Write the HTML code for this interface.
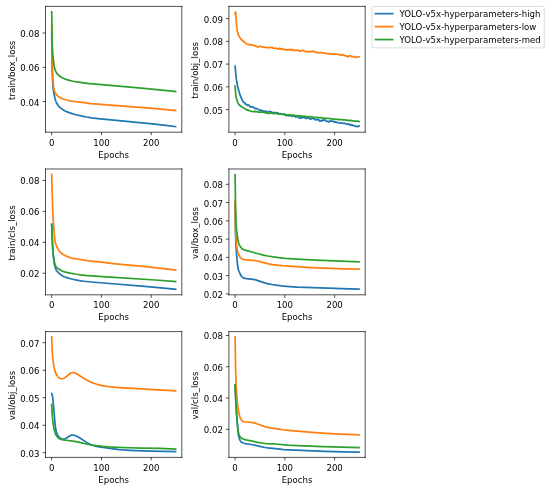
<!DOCTYPE html>
<html><head><meta charset="utf-8"><title>results</title>
<style>html,body{margin:0;padding:0;background:#fff;width:550px;height:490px;overflow:hidden}svg{display:block}</style>
</head><body>
<svg width="550" height="490" viewBox="0 0 639.534884 569.767442">
 <defs>
  <style type="text/css">*{stroke-linejoin: round; stroke-linecap: butt}</style>
 </defs>
 <g id="figure_1">
  <g id="patch_1">
   <path d="M 0 569.767442 L 639.534884 569.767442 L 639.534884 0 L 0 0 z" style="fill: #ffffff"/>
  </g>
  <g id="axes_1">
   <g id="patch_2">
    <path d="M 52.906977 153.72093 L 211.395349 153.72093 L 211.395349 7.44186 L 52.906977 7.44186 z" style="fill: #ffffff"/>
   </g>
   <g id="matplotlib.axis_1">
    <g id="xtick_1">
     <g id="line2d_1">
      <g>
       <path d="M 0 0 L 0 3.5" transform="translate(60.110994 153.72093)" style="stroke: #000000; stroke-width: 0.8"/>
      </g>
     </g>
     <g id="text_1">
      <g transform="translate(0.000 1.163)"><text style="font-size: 10px; font-family: 'DejaVu Sans', 'Liberation Sans', sans-serif; text-anchor: middle" x="60.110994" y="168.64093">0</text></g>
     </g>
    </g>
    <g id="xtick_2">
     <g id="line2d_2">
      <g>
       <path d="M 0 0 L 0 3.5" transform="translate(117.974583 153.72093)" style="stroke: #000000; stroke-width: 0.8"/>
      </g>
     </g>
     <g id="text_2">
      <g transform="translate(0.000 1.163)"><text style="font-size: 10px; font-family: 'DejaVu Sans', 'Liberation Sans', sans-serif; text-anchor: middle" x="117.974583" y="168.64093">100</text></g>
     </g>
    </g>
    <g id="xtick_3">
     <g id="line2d_3">
      <g>
       <path d="M 0 0 L 0 3.5" transform="translate(175.838173 153.72093)" style="stroke: #000000; stroke-width: 0.8"/>
      </g>
     </g>
     <g id="text_3">
      <g transform="translate(0.000 1.163)"><text style="font-size: 10px; font-family: 'DejaVu Sans', 'Liberation Sans', sans-serif; text-anchor: middle" x="175.838173" y="168.64093">200</text></g>
     </g>
    </g>
    <g id="text_4">
     <g transform="translate(0.000 1.163)"><text style="font-size: 10px; font-family: 'DejaVu Sans', 'Liberation Sans', sans-serif; text-anchor: middle" x="132.151163" y="182.72093">Epochs</text></g>
    </g>
   </g>
   <g id="matplotlib.axis_2">
    <g id="ytick_1">
     <g id="line2d_4">
      <g>
       <path d="M 0 0 L -3.5 0" transform="translate(52.906977 118.143308)" style="stroke: #000000; stroke-width: 0.8"/>
      </g>
     </g>
     <g id="text_5">
      <g transform="translate(0.000 1.163)"><text style="font-size: 10px; font-family: 'DejaVu Sans', 'Liberation Sans', sans-serif; text-anchor: end" x="45.906977" y="122.103308">0.04</text></g>
     </g>
    </g>
    <g id="ytick_2">
     <g id="line2d_5">
      <g>
       <path d="M 0 0 L -3.5 0" transform="translate(52.906977 78.258081)" style="stroke: #000000; stroke-width: 0.8"/>
      </g>
     </g>
     <g id="text_6">
      <text style="font-size: 10px; font-family: 'DejaVu Sans', 'Liberation Sans', sans-serif; text-anchor: end" x="45.906977" y="82.218081">0.06</text>
     </g>
    </g>
    <g id="ytick_3">
     <g id="line2d_6">
      <g>
       <path d="M 0 0 L -3.5 0" transform="translate(52.906977 38.372854)" style="stroke: #000000; stroke-width: 0.8"/>
      </g>
     </g>
     <g id="text_7">
      <g transform="translate(0.000 1.163)"><text style="font-size: 10px; font-family: 'DejaVu Sans', 'Liberation Sans', sans-serif; text-anchor: end" x="45.906977" y="42.332854">0.08</text></g>
     </g>
    </g>
    <g id="text_8">
     <g transform="translate(0.000 1.163)"><text style="font-size: 10px; font-family: 'DejaVu Sans', 'Liberation Sans', sans-serif; text-anchor: middle" x="17.505727" y="80.581395" transform="rotate(-90 17.505727 80.581395)">train/box_loss</text></g>
    </g>
   </g>
   <g id="line2d_7">
    <path d="M 60.110994 38.372093 L 60.68963 81.395349 L 61.268265 95.348837 L 61.846901 102.906977 L 62.425537 107.55814 L 64.161445 115.697674 L 65.318717 118.676694 L 66.475989 121.031673 L 67.63326 122.743988 L 68.790532 124.060862 L 70.52644 125.636229 L 72.840983 127.316127 L 75.155527 128.689547 L 77.470071 129.826139 L 80.36325 130.998821 L 83.835065 132.153719 L 88.464153 133.440857 L 94.250512 134.797215 L 100.615506 136.065662 L 106.401865 136.981433 L 113.924132 137.924268 L 126.075486 139.19491 L 150.378194 141.508944 L 179.888624 144.307254 L 192.618614 145.800718 L 204.191332 147.250652 L 204.191332 147.250652" clip-path="url(#pa51ea59120)" style="fill: none; stroke: #1f77b4; stroke-width: 2; stroke-linecap: square"/>
   </g>
   <g id="line2d_8">
    <path d="M 60.110994 28.372093 L 60.68963 67.44186 L 61.268265 88.372093 L 61.846901 96.511628 L 62.425537 101.511628 L 63.004173 104.418605 L 63.582809 106.395349 L 64.161445 107.790698 L 64.740081 108.839256 L 65.897353 110.301746 L 67.054624 111.478786 L 68.211896 112.409042 L 69.947804 113.468777 L 72.262347 114.572966 L 74.576891 115.446429 L 77.470071 116.316206 L 80.941886 117.150907 L 84.992337 117.887887 L 89.621424 118.468525 L 97.722327 119.439123 L 105.823229 120.447266 L 113.345496 121.10081 L 181.045896 126.36544 L 204.191332 128.639192 L 204.191332 128.639192" clip-path="url(#pa51ea59120)" style="fill: none; stroke: #ff7f0e; stroke-width: 2; stroke-linecap: square"/>
   </g>
   <g id="line2d_9">
    <path d="M 60.110994 13.72093 L 60.68963 51.162791 L 61.268265 61.627907 L 62.425537 72.325581 L 63.004173 77.093023 L 63.582809 79.767442 L 64.161445 81.627907 L 65.318717 83.962157 L 66.475989 85.661337 L 67.63326 86.990401 L 68.790532 88.070206 L 70.52644 89.340797 L 72.262347 90.343452 L 74.576891 91.435531 L 77.470071 92.53172 L 80.941886 93.5351 L 84.992337 94.451995 L 89.042788 95.134112 L 101.772778 96.854487 L 108.137773 97.518653 L 157.90046 101.842681 L 173.523629 103.267481 L 197.247701 105.68733 L 204.191332 106.436363 L 204.191332 106.436363" clip-path="url(#pa51ea59120)" style="fill: none; stroke: #2ca02c; stroke-width: 2; stroke-linecap: square"/>
   </g>
   <g id="patch_3">
    <path d="M 52.906977 153.72093 L 52.906977 7.44186" style="fill: none; stroke: #000000; stroke-width: 0.8; stroke-linejoin: miter; stroke-linecap: square"/>
   </g>
   <g id="patch_4">
    <path d="M 211.395349 153.72093 L 211.395349 7.44186" style="fill: none; stroke: #000000; stroke-width: 0.8; stroke-linejoin: miter; stroke-linecap: square"/>
   </g>
   <g id="patch_5">
    <path d="M 52.906977 153.72093 L 211.395349 153.72093" style="fill: none; stroke: #000000; stroke-width: 0.8; stroke-linejoin: miter; stroke-linecap: square"/>
   </g>
   <g id="patch_6">
    <path d="M 52.906977 7.44186 L 211.395349 7.44186" style="fill: none; stroke: #000000; stroke-width: 0.8; stroke-linejoin: miter; stroke-linecap: square"/>
   </g>
  </g>
  <g id="axes_2">
   <g id="patch_7">
    <path d="M 266.162791 153.72093 L 424.651163 153.72093 L 424.651163 7.44186 L 266.162791 7.44186 z" style="fill: #ffffff"/>
   </g>
   <g id="matplotlib.axis_3">
    <g id="xtick_4">
     <g id="line2d_10">
      <g>
       <path d="M 0 0 L 0 3.5" transform="translate(273.366808 153.72093)" style="stroke: #000000; stroke-width: 0.8"/>
      </g>
     </g>
     <g id="text_9">
      <g transform="translate(0.000 1.163)"><text style="font-size: 10px; font-family: 'DejaVu Sans', 'Liberation Sans', sans-serif; text-anchor: middle" x="273.366808" y="168.64093">0</text></g>
     </g>
    </g>
    <g id="xtick_5">
     <g id="line2d_11">
      <g>
       <path d="M 0 0 L 0 3.5" transform="translate(331.230397 153.72093)" style="stroke: #000000; stroke-width: 0.8"/>
      </g>
     </g>
     <g id="text_10">
      <g transform="translate(0.000 1.163)"><text style="font-size: 10px; font-family: 'DejaVu Sans', 'Liberation Sans', sans-serif; text-anchor: middle" x="331.230397" y="168.64093">100</text></g>
     </g>
    </g>
    <g id="xtick_6">
     <g id="line2d_12">
      <g>
       <path d="M 0 0 L 0 3.5" transform="translate(389.093987 153.72093)" style="stroke: #000000; stroke-width: 0.8"/>
      </g>
     </g>
     <g id="text_11">
      <g transform="translate(0.000 1.163)"><text style="font-size: 10px; font-family: 'DejaVu Sans', 'Liberation Sans', sans-serif; text-anchor: middle" x="389.093987" y="168.64093">200</text></g>
     </g>
    </g>
    <g id="text_12">
     <g transform="translate(0.000 1.163)"><text style="font-size: 10px; font-family: 'DejaVu Sans', 'Liberation Sans', sans-serif; text-anchor: middle" x="345.406977" y="182.72093">Epochs</text></g>
    </g>
   </g>
   <g id="matplotlib.axis_4">
    <g id="ytick_4">
     <g id="line2d_13">
      <g>
       <path d="M 0 0 L -3.5 0" transform="translate(266.162791 127.449432)" style="stroke: #000000; stroke-width: 0.8"/>
      </g>
     </g>
     <g id="text_13">
      <g transform="translate(0.000 1.163)"><text style="font-size: 10px; font-family: 'DejaVu Sans', 'Liberation Sans', sans-serif; text-anchor: end" x="259.162791" y="131.409432">0.05</text></g>
     </g>
    </g>
    <g id="ytick_5">
     <g id="line2d_14">
      <g>
       <path d="M 0 0 L -3.5 0" transform="translate(266.162791 100.992736)" style="stroke: #000000; stroke-width: 0.8"/>
      </g>
     </g>
     <g id="text_14">
      <g transform="translate(0.000 1.163)"><text style="font-size: 10px; font-family: 'DejaVu Sans', 'Liberation Sans', sans-serif; text-anchor: end" x="259.162791" y="104.952736">0.06</text></g>
     </g>
    </g>
    <g id="ytick_6">
     <g id="line2d_15">
      <g>
       <path d="M 0 0 L -3.5 0" transform="translate(266.162791 74.53604)" style="stroke: #000000; stroke-width: 0.8"/>
      </g>
     </g>
     <g id="text_15">
      <text style="font-size: 10px; font-family: 'DejaVu Sans', 'Liberation Sans', sans-serif; text-anchor: end" x="259.162791" y="78.49604">0.07</text>
     </g>
    </g>
    <g id="ytick_7">
     <g id="line2d_16">
      <g>
       <path d="M 0 0 L -3.5 0" transform="translate(266.162791 48.079345)" style="stroke: #000000; stroke-width: 0.8"/>
      </g>
     </g>
     <g id="text_16">
      <text style="font-size: 10px; font-family: 'DejaVu Sans', 'Liberation Sans', sans-serif; text-anchor: end" x="259.162791" y="52.039345">0.08</text>
     </g>
    </g>
    <g id="ytick_8">
     <g id="line2d_17">
      <g>
       <path d="M 0 0 L -3.5 0" transform="translate(266.162791 21.622649)" style="stroke: #000000; stroke-width: 0.8"/>
      </g>
     </g>
     <g id="text_17">
      <g transform="translate(0.000 1.163)"><text style="font-size: 10px; font-family: 'DejaVu Sans', 'Liberation Sans', sans-serif; text-anchor: end" x="259.162791" y="25.582649">0.09</text></g>
     </g>
    </g>
    <g id="text_18">
     <g transform="translate(0.000 1.163)"><text style="font-size: 10px; font-family: 'DejaVu Sans', 'Liberation Sans', sans-serif; text-anchor: middle" x="230.761541" y="80.581395" transform="rotate(-90 230.761541 80.581395)">train/obj_loss</text></g>
    </g>
   </g>
   <g id="line2d_18">
    <path d="M 273.366808 77.004351 L 274.524079 89.388504 L 275.102715 93.733784 L 276.259987 100.143625 L 277.995895 106.76962 L 279.153167 110.696024 L 280.310438 113.285902 L 282.046346 117.089066 L 283.203618 118.819589 L 284.36089 119.557095 L 284.939526 120.470112 L 285.518161 121.158641 L 286.675433 121.306478 L 287.832705 122.777922 L 288.411341 122.649345 L 288.989977 122.199112 L 289.568613 122.274269 L 290.147249 122.878121 L 290.725885 123.816716 L 291.30452 124.476378 L 293.619064 124.093702 L 295.933608 125.737953 L 296.512243 126.244189 L 297.090879 126.303608 L 297.669515 126.063223 L 298.248151 126.224087 L 298.826787 126.511902 L 299.405423 126.542498 L 300.562695 127.577257 L 301.141331 127.535353 L 302.298602 128.154108 L 302.877238 128.034657 L 304.03451 128.287611 L 304.613146 128.609846 L 305.191782 129.368726 L 305.770418 129.478675 L 306.349054 129.059131 L 306.92769 128.910288 L 308.084961 129.639845 L 308.663597 129.646105 L 309.242233 129.32258 L 309.820869 129.38432 L 310.399505 130.167159 L 310.978141 130.548312 L 311.556777 130.194108 L 312.714049 129.973475 L 313.292684 129.599796 L 313.87132 129.594857 L 314.449956 130.044385 L 315.028592 130.170393 L 315.607228 130.148375 L 316.7645 130.978529 L 318.500408 130.813266 L 319.657679 130.924959 L 320.236315 130.8823 L 321.393587 131.623916 L 321.972223 131.485016 L 322.550859 130.887425 L 323.129495 131.230457 L 323.708131 132.257161 L 324.286767 132.481479 L 324.865402 132.218077 L 325.444038 132.315783 L 326.60131 132.183585 L 327.179946 132.470761 L 327.758582 132.882826 L 328.337218 133.131435 L 328.915854 133.063033 L 330.073125 132.384432 L 330.651761 132.697614 L 331.230397 133.192467 L 331.809033 133.378764 L 332.966305 134.423047 L 334.123577 133.918033 L 335.859484 134.396388 L 336.43812 134.715234 L 337.016756 134.619195 L 337.595392 134.024071 L 338.174028 134.027856 L 338.752664 134.455111 L 339.3313 135.147223 L 339.909936 135.404167 L 340.488572 135.040501 L 341.645843 134.71257 L 342.224479 134.76196 L 342.803115 134.96485 L 343.381751 135.750981 L 343.960387 136.16189 L 344.539023 135.736386 L 345.117659 135.585373 L 345.696295 135.556492 L 346.274931 135.642096 L 347.432202 136.883923 L 348.589474 137.418232 L 349.16811 137.517614 L 350.904018 137.025851 L 351.482654 137.019696 L 352.639925 136.395536 L 353.797197 136.772645 L 354.375833 137.002847 L 354.954469 136.878293 L 355.533105 136.940202 L 356.111741 137.507383 L 356.690377 137.862392 L 357.269013 137.572422 L 357.847649 137.106759 L 358.426284 136.884872 L 359.00492 137.072189 L 359.583556 137.46643 L 360.162192 138.292531 L 360.740828 138.378675 L 361.319464 138.212029 L 362.476736 138.209816 L 363.634007 137.52242 L 364.791279 137.828566 L 365.369915 138.20728 L 366.527187 139.350613 L 367.105823 138.953957 L 367.684459 138.755535 L 368.263095 139.206457 L 368.841731 139.381122 L 369.999002 138.620746 L 370.577638 139.278481 L 371.156274 140.159089 L 371.73491 140.744821 L 372.313546 140.48916 L 372.892182 140.080138 L 374.049454 140.91475 L 375.206725 139.78559 L 375.785361 139.658578 L 376.363997 139.750044 L 376.942633 139.591054 L 377.521269 139.243084 L 379.257177 140.914081 L 379.835813 141.20678 L 380.414448 141.22522 L 380.993084 140.97225 L 381.57172 141.118544 L 382.150356 141.626377 L 382.728992 141.707477 L 383.307628 141.012824 L 383.886264 140.547427 L 384.4649 140.662409 L 385.043536 140.922325 L 386.779443 140.857854 L 387.358079 140.993904 L 388.515351 141.979473 L 389.093987 142.056957 L 389.672623 141.680925 L 390.829895 142.083607 L 391.408531 142.202072 L 391.987166 142.573142 L 393.144438 142.424354 L 395.458982 143.390607 L 396.616254 143.02785 L 397.194889 142.877382 L 397.773525 142.931839 L 398.352161 143.364344 L 398.930797 143.609756 L 400.088069 143.357169 L 400.666705 143.426562 L 401.823977 143.787736 L 402.402613 143.882459 L 402.981248 144.193577 L 403.559884 144.683662 L 404.13852 144.690335 L 404.717156 144.308818 L 405.295792 144.097916 L 406.453064 144.863718 L 407.0317 145.428585 L 407.610336 145.69958 L 408.188972 145.061158 L 408.767607 144.731385 L 409.346243 145.106246 L 409.924879 145.756052 L 411.082151 146.003143 L 411.660787 146.350505 L 412.239423 146.226144 L 412.818059 146.216685 L 413.396695 146.468592 L 413.97533 147.020817 L 414.553966 147.217192 L 415.711238 147.261349 L 416.86851 146.311603 L 417.447146 146.563365 L 417.447146 146.563365" clip-path="url(#pc70cf0ac64)" style="fill: none; stroke: #1f77b4; stroke-width: 2; stroke-linecap: square"/>
   </g>
   <g id="line2d_19">
    <path d="M 273.366808 16.544099 L 273.945444 13.673542 L 275.102715 29.050179 L 275.681351 34.522333 L 276.259987 37.341533 L 276.838623 39.445701 L 278.574531 43.302783 L 279.153167 43.876511 L 281.46771 46.930738 L 282.624982 47.590655 L 283.203618 48.223808 L 284.36089 49.049705 L 284.939526 49.787311 L 285.518161 50.246942 L 286.096797 50.300023 L 287.254069 51.370651 L 288.411341 51.560572 L 288.989977 51.926636 L 289.568613 52.056894 L 290.147249 51.726013 L 290.725885 51.596274 L 291.883156 52.30553 L 292.461792 52.206976 L 293.040428 52.241703 L 293.619064 52.481997 L 294.776336 52.589593 L 295.354972 53.094191 L 295.933608 53.42718 L 297.090879 53.228077 L 297.669515 53.456495 L 298.248151 54.077102 L 298.826787 54.422368 L 299.405423 54.638074 L 299.984059 54.706493 L 300.562695 54.330145 L 301.141331 54.154934 L 301.719967 54.169499 L 302.298602 53.877947 L 302.877238 53.835283 L 304.613146 54.435658 L 305.191782 54.796873 L 305.770418 54.67653 L 306.349054 54.810692 L 306.92769 55.217781 L 308.663597 54.856659 L 309.242233 55.053143 L 310.978141 55.332667 L 312.135413 55.213783 L 313.292684 55.332791 L 313.87132 55.14702 L 314.449956 55.224041 L 315.028592 55.417773 L 316.185864 55.000352 L 316.7645 55.275551 L 317.343136 55.884442 L 318.500408 55.805213 L 319.079043 56.153648 L 319.657679 56.290891 L 320.236315 56.194239 L 320.814951 56.368587 L 321.393587 56.181336 L 321.972223 56.232059 L 322.550859 56.847541 L 323.129495 57.107426 L 323.708131 57.052793 L 324.865402 55.998035 L 325.444038 56.263599 L 326.022674 57.166635 L 326.60131 57.24883 L 327.179946 56.696818 L 327.758582 56.471877 L 328.915854 57.324592 L 330.073125 57.409128 L 330.651761 57.61621 L 331.230397 57.693928 L 331.809033 57.519232 L 332.387669 57.49744 L 333.544941 58.030278 L 334.123577 58.269654 L 335.280849 57.681889 L 335.859484 58.000289 L 336.43812 58.179335 L 337.595392 57.347374 L 338.174028 57.321574 L 339.3313 58.474657 L 339.909936 58.469917 L 340.488572 57.704647 L 341.067208 57.481605 L 341.645843 58.244372 L 342.224479 58.596725 L 342.803115 58.534938 L 343.960387 58.794898 L 344.539023 58.690319 L 345.696295 58.26855 L 346.853566 58.495804 L 347.432202 58.775199 L 348.010838 59.187268 L 348.589474 59.741353 L 349.16811 59.626793 L 349.746746 59.121119 L 350.904018 58.853002 L 352.06129 58.496549 L 352.639925 58.571517 L 353.218561 58.831669 L 354.375833 59.740913 L 355.533105 60.004545 L 356.111741 60.111755 L 357.847649 59.795299 L 359.00492 60.514813 L 360.740828 59.587991 L 361.319464 59.860802 L 361.8981 60.31347 L 362.476736 60.191456 L 363.055372 59.62797 L 364.212643 59.334873 L 364.791279 59.621588 L 365.369915 60.328669 L 365.948551 60.490637 L 367.105823 60.393634 L 368.263095 60.720025 L 369.420366 61.487817 L 370.577638 61.417483 L 371.73491 61.261078 L 372.313546 61.035407 L 372.892182 60.946774 L 374.62809 61.513506 L 375.206725 61.736127 L 376.363997 61.816867 L 377.521269 61.675859 L 378.678541 62.094396 L 379.257177 62.040323 L 380.414448 62.457454 L 382.150356 62.379597 L 383.307628 62.89478 L 383.886264 62.660145 L 384.4649 62.265323 L 385.043536 62.530047 L 385.622172 62.968465 L 386.200807 63.078779 L 386.779443 62.987525 L 387.358079 62.744948 L 387.936715 62.985823 L 388.515351 62.936969 L 389.093987 63.018293 L 389.672623 63.336866 L 390.829895 62.785081 L 393.144438 63.202344 L 394.30171 63.510618 L 396.616254 64.122996 L 397.194889 64.273328 L 398.352161 63.404286 L 398.930797 63.663269 L 399.509433 64.11176 L 401.245341 64.629668 L 402.402613 65.34671 L 402.981248 65.234551 L 403.559884 65.29661 L 404.717156 65.825955 L 405.295792 65.894612 L 405.874428 65.498757 L 406.453064 64.826525 L 407.0317 64.583483 L 408.188972 65.110519 L 409.346243 66.13427 L 410.503515 65.661415 L 411.082151 65.782426 L 411.660787 65.762504 L 412.239423 65.91347 L 412.818059 66.449543 L 413.396695 66.743418 L 415.132602 66.283876 L 415.711238 65.894733 L 416.289874 65.85163 L 416.86851 66.254775 L 417.447146 66.351657 L 417.447146 66.351657" clip-path="url(#pc70cf0ac64)" style="fill: none; stroke: #ff7f0e; stroke-width: 2; stroke-linecap: square"/>
   </g>
   <g id="line2d_20">
    <path d="M 273.366808 100.142506 L 273.945444 107.947824 L 274.524079 112.907958 L 275.102715 115.214165 L 276.259987 118.695666 L 276.838623 120.002415 L 277.417259 121.03287 L 279.731802 123.291724 L 280.310438 123.908189 L 281.46771 124.527356 L 282.046346 124.68025 L 283.203618 125.427605 L 284.36089 126.158789 L 287.254069 127.771756 L 288.989977 128.368554 L 291.30452 129.122547 L 292.461792 129.559239 L 295.354972 129.692704 L 295.933608 129.59819 L 297.090879 129.900171 L 298.826787 129.945264 L 299.405423 130.032408 L 300.562695 130.483559 L 301.719967 130.312326 L 304.03451 130.47958 L 305.191782 130.353765 L 308.084961 130.858349 L 310.399505 131.584942 L 312.135413 131.471754 L 312.714049 131.757985 L 313.292684 131.873526 L 315.028592 131.605863 L 316.185864 131.504954 L 317.343136 131.795487 L 317.921772 132.030979 L 318.500408 132.098652 L 319.657679 131.85541 L 321.393587 131.964021 L 323.129495 132.475006 L 323.708131 132.34954 L 330.073125 133.155401 L 331.230397 133.503669 L 332.387669 133.380515 L 334.123577 133.506039 L 335.280849 133.468304 L 336.43812 133.680429 L 337.595392 133.555064 L 338.752664 133.976777 L 339.3313 134.071456 L 340.488572 133.86394 L 341.067208 133.952996 L 342.224479 134.32258 L 342.803115 134.23726 L 343.381751 134.299457 L 343.960387 134.563621 L 344.539023 134.67384 L 346.274931 134.332591 L 347.432202 134.807331 L 348.589474 135.059616 L 349.746746 134.769801 L 351.482654 135.177585 L 352.639925 134.991676 L 354.375833 135.222522 L 355.533105 135.391799 L 356.111741 135.525143 L 356.690377 135.776858 L 357.269013 135.827102 L 358.426284 135.729821 L 359.00492 135.781337 L 360.162192 135.583766 L 362.476736 135.943925 L 363.055372 136.137726 L 364.212643 136.07822 L 365.369915 136.342095 L 367.105823 136.600126 L 368.263095 136.488501 L 369.999002 136.797147 L 371.156274 136.617779 L 372.892182 136.732503 L 375.785361 137.710661 L 376.942633 137.35742 L 378.099905 137.855853 L 379.257177 137.476521 L 381.57172 137.758584 L 382.150356 137.678514 L 387.936715 138.443151 L 389.093987 138.86744 L 390.251259 138.633799 L 391.408531 138.783386 L 393.144438 138.865521 L 393.723074 139.040949 L 396.616254 139.218843 L 397.773525 139.105942 L 398.930797 139.461473 L 400.088069 139.473813 L 401.245341 139.406111 L 402.981248 139.95325 L 404.13852 139.906842 L 404.717156 139.793918 L 407.0317 140.148971 L 408.188972 140.068946 L 411.660787 140.864921 L 412.818059 140.787366 L 413.97533 141.081723 L 415.132602 140.951874 L 415.711238 140.798183 L 416.289874 140.783287 L 417.447146 141.445233 L 417.447146 141.445233" clip-path="url(#pc70cf0ac64)" style="fill: none; stroke: #2ca02c; stroke-width: 2; stroke-linecap: square"/>
   </g>
   <g id="patch_8">
    <path d="M 266.162791 153.72093 L 266.162791 7.44186" style="fill: none; stroke: #000000; stroke-width: 0.8; stroke-linejoin: miter; stroke-linecap: square"/>
   </g>
   <g id="patch_9">
    <path d="M 424.651163 153.72093 L 424.651163 7.44186" style="fill: none; stroke: #000000; stroke-width: 0.8; stroke-linejoin: miter; stroke-linecap: square"/>
   </g>
   <g id="patch_10">
    <path d="M 266.162791 153.72093 L 424.651163 153.72093" style="fill: none; stroke: #000000; stroke-width: 0.8; stroke-linejoin: miter; stroke-linecap: square"/>
   </g>
   <g id="patch_11">
    <path d="M 266.162791 7.44186 L 424.651163 7.44186" style="fill: none; stroke: #000000; stroke-width: 0.8; stroke-linejoin: miter; stroke-linecap: square"/>
   </g>
   <g id="legend_1">
    <g id="patch_12">
     <path d="M 434.575581 55.68186 L 630.915581 55.68186 Q 632.915581 55.68186 632.915581 53.68186 L 632.915581 9.44186 Q 632.915581 7.44186 630.915581 7.44186 L 434.575581 7.44186 Q 432.575581 7.44186 432.575581 9.44186 L 432.575581 53.68186 Q 432.575581 55.68186 434.575581 55.68186 z" style="fill: #ffffff; opacity: 0.8; stroke: #cccccc; stroke-linejoin: miter"/>
    </g>
    <g id="line2d_21">
     <path d="M 436.575581 15.86186 L 446.575581 15.86186 L 456.575581 15.86186" style="fill: none; stroke: #1f77b4; stroke-width: 2; stroke-linecap: square"/>
    </g>
    <g id="text_19">
     <text style="font-size: 10px; font-family: 'DejaVu Sans', 'Liberation Sans', sans-serif; text-anchor: start" x="464.575581" y="19.36186">YOLO-v5x-hyperparameters-high</text>
    </g>
    <g id="line2d_22">
     <path d="M 436.575581 30.94186 L 446.575581 30.94186 L 456.575581 30.94186" style="fill: none; stroke: #ff7f0e; stroke-width: 2; stroke-linecap: square"/>
    </g>
    <g id="text_20">
     <text style="font-size: 10px; font-family: 'DejaVu Sans', 'Liberation Sans', sans-serif; text-anchor: start" x="464.575581" y="34.44186">YOLO-v5x-hyperparameters-low</text>
    </g>
    <g id="line2d_23">
     <path d="M 436.575581 46.02186 L 446.575581 46.02186 L 456.575581 46.02186" style="fill: none; stroke: #2ca02c; stroke-width: 2; stroke-linecap: square"/>
    </g>
    <g id="text_21">
     <text style="font-size: 10px; font-family: 'DejaVu Sans', 'Liberation Sans', sans-serif; text-anchor: start" x="464.575581" y="49.52186">YOLO-v5x-hyperparameters-med</text>
    </g>
   </g>
  </g>
  <g id="axes_3">
   <g id="patch_13">
    <path d="M 52.906977 342.790698 L 211.395349 342.790698 L 211.395349 196.511628 L 52.906977 196.511628 z" style="fill: #ffffff"/>
   </g>
   <g id="matplotlib.axis_5">
    <g id="xtick_7">
     <g id="line2d_24">
      <g>
       <path d="M 0 0 L 0 3.5" transform="translate(60.110994 342.790698)" style="stroke: #000000; stroke-width: 0.8"/>
      </g>
     </g>
     <g id="text_22">
      <text style="font-size: 10px; font-family: 'DejaVu Sans', 'Liberation Sans', sans-serif; text-anchor: middle" x="60.110994" y="357.710698">0</text>
     </g>
    </g>
    <g id="xtick_8">
     <g id="line2d_25">
      <g>
       <path d="M 0 0 L 0 3.5" transform="translate(117.974583 342.790698)" style="stroke: #000000; stroke-width: 0.8"/>
      </g>
     </g>
     <g id="text_23">
      <text style="font-size: 10px; font-family: 'DejaVu Sans', 'Liberation Sans', sans-serif; text-anchor: middle" x="117.974583" y="357.710698">100</text>
     </g>
    </g>
    <g id="xtick_9">
     <g id="line2d_26">
      <g>
       <path d="M 0 0 L 0 3.5" transform="translate(175.838173 342.790698)" style="stroke: #000000; stroke-width: 0.8"/>
      </g>
     </g>
     <g id="text_24">
      <text style="font-size: 10px; font-family: 'DejaVu Sans', 'Liberation Sans', sans-serif; text-anchor: middle" x="175.838173" y="357.710698">200</text>
     </g>
    </g>
    <g id="text_25">
     <text style="font-size: 10px; font-family: 'DejaVu Sans', 'Liberation Sans', sans-serif; text-anchor: middle" x="132.151163" y="371.790698">Epochs</text>
    </g>
   </g>
   <g id="matplotlib.axis_6">
    <g id="ytick_9">
     <g id="line2d_27">
      <g>
       <path d="M 0 0 L -3.5 0" transform="translate(52.906977 317.674247)" style="stroke: #000000; stroke-width: 0.8"/>
      </g>
     </g>
     <g id="text_26">
      <text style="font-size: 10px; font-family: 'DejaVu Sans', 'Liberation Sans', sans-serif; text-anchor: end" x="45.906977" y="321.634247">0.02</text>
     </g>
    </g>
    <g id="ytick_10">
     <g id="line2d_28">
      <g>
       <path d="M 0 0 L -3.5 0" transform="translate(52.906977 281.742272)" style="stroke: #000000; stroke-width: 0.8"/>
      </g>
     </g>
     <g id="text_27">
      <text style="font-size: 10px; font-family: 'DejaVu Sans', 'Liberation Sans', sans-serif; text-anchor: end" x="45.906977" y="285.702272">0.04</text>
     </g>
    </g>
    <g id="ytick_11">
     <g id="line2d_29">
      <g>
       <path d="M 0 0 L -3.5 0" transform="translate(52.906977 245.810297)" style="stroke: #000000; stroke-width: 0.8"/>
      </g>
     </g>
     <g id="text_28">
      <text style="font-size: 10px; font-family: 'DejaVu Sans', 'Liberation Sans', sans-serif; text-anchor: end" x="45.906977" y="249.770297">0.06</text>
     </g>
    </g>
    <g id="ytick_12">
     <g id="line2d_30">
      <g>
       <path d="M 0 0 L -3.5 0" transform="translate(52.906977 209.878323)" style="stroke: #000000; stroke-width: 0.8"/>
      </g>
     </g>
     <g id="text_29">
      <text style="font-size: 10px; font-family: 'DejaVu Sans', 'Liberation Sans', sans-serif; text-anchor: end" x="45.906977" y="213.838323">0.08</text>
     </g>
    </g>
    <g id="text_30">
     <g transform="translate(0.000 1.163)"><text style="font-size: 10px; font-family: 'DejaVu Sans', 'Liberation Sans', sans-serif; text-anchor: middle" x="17.505727" y="269.651163" transform="rotate(-90 17.505727 269.651163)">train/cls_loss</text></g>
    </g>
   </g>
   <g id="line2d_31">
    <path d="M 60.110994 261.046512 L 61.268265 288.953488 L 61.846901 296.511628 L 62.425537 301.744186 L 63.004173 305.813953 L 63.582809 308.72093 L 64.161445 310.813953 L 65.318717 313.837209 L 65.897353 314.883721 L 67.054624 316.244289 L 68.790532 317.822178 L 71.683712 320.151837 L 73.419619 321.168968 L 75.734163 322.178543 L 78.627342 323.170458 L 83.25643 324.448362 L 87.885517 325.515404 L 92.514604 326.3564 L 97.722327 327.035843 L 106.401865 327.916753 L 120.289127 329.052693 L 168.315906 332.964712 L 193.19725 335.296255 L 204.191332 336.349766 L 204.191332 336.349766" clip-path="url(#p3bf4592980)" style="fill: none; stroke: #1f77b4; stroke-width: 2; stroke-linecap: square"/>
   </g>
   <g id="line2d_32">
    <path d="M 60.110994 202.906977 L 61.268265 244.186047 L 61.846901 254.651163 L 63.004173 270.348837 L 63.582809 276.744186 L 64.161445 280.813953 L 64.740081 283.212599 L 65.897353 286.553684 L 67.054624 289.06021 L 68.211896 290.940905 L 69.369168 292.457521 L 70.52644 293.677409 L 72.262347 295.079173 L 73.998255 296.177452 L 76.891435 297.703999 L 79.784614 299.000112 L 82.099158 299.757727 L 84.992337 300.407258 L 89.621424 301.162561 L 97.722327 302.476322 L 104.087322 303.46282 L 108.716409 303.927828 L 117.974583 304.732635 L 124.918214 305.694699 L 131.861845 306.555257 L 140.541383 307.363521 L 167.158635 309.698212 L 182.203168 311.379695 L 204.191332 313.936306 L 204.191332 313.936306" clip-path="url(#p3bf4592980)" style="fill: none; stroke: #ff7f0e; stroke-width: 2; stroke-linecap: square"/>
   </g>
   <g id="line2d_33">
    <path d="M 60.110994 260.697674 L 61.268265 288.372093 L 61.846901 295.116279 L 63.004173 302.906977 L 63.582809 305.813953 L 64.161445 307.906977 L 64.740081 309.418605 L 65.318717 310.581395 L 65.897353 311.395349 L 69.369168 313.390567 L 71.105076 314.565414 L 72.262347 315.151109 L 73.998255 315.771184 L 77.470071 316.695507 L 81.520522 317.578851 L 89.042788 318.911001 L 93.671876 319.593375 L 99.458235 320.1888 L 110.452317 321.051169 L 128.390029 322.245956 L 180.46726 325.586181 L 204.191332 327.402552 L 204.191332 327.402552" clip-path="url(#p3bf4592980)" style="fill: none; stroke: #2ca02c; stroke-width: 2; stroke-linecap: square"/>
   </g>
   <g id="patch_14">
    <path d="M 52.906977 342.790698 L 52.906977 196.511628" style="fill: none; stroke: #000000; stroke-width: 0.8; stroke-linejoin: miter; stroke-linecap: square"/>
   </g>
   <g id="patch_15">
    <path d="M 211.395349 342.790698 L 211.395349 196.511628" style="fill: none; stroke: #000000; stroke-width: 0.8; stroke-linejoin: miter; stroke-linecap: square"/>
   </g>
   <g id="patch_16">
    <path d="M 52.906977 342.790698 L 211.395349 342.790698" style="fill: none; stroke: #000000; stroke-width: 0.8; stroke-linejoin: miter; stroke-linecap: square"/>
   </g>
   <g id="patch_17">
    <path d="M 52.906977 196.511628 L 211.395349 196.511628" style="fill: none; stroke: #000000; stroke-width: 0.8; stroke-linejoin: miter; stroke-linecap: square"/>
   </g>
  </g>
  <g id="axes_4">
   <g id="patch_18">
    <path d="M 266.162791 342.790698 L 424.651163 342.790698 L 424.651163 196.511628 L 266.162791 196.511628 z" style="fill: #ffffff"/>
   </g>
   <g id="matplotlib.axis_7">
    <g id="xtick_10">
     <g id="line2d_34">
      <g>
       <path d="M 0 0 L 0 3.5" transform="translate(273.366808 342.790698)" style="stroke: #000000; stroke-width: 0.8"/>
      </g>
     </g>
     <g id="text_31">
      <text style="font-size: 10px; font-family: 'DejaVu Sans', 'Liberation Sans', sans-serif; text-anchor: middle" x="273.366808" y="357.710698">0</text>
     </g>
    </g>
    <g id="xtick_11">
     <g id="line2d_35">
      <g>
       <path d="M 0 0 L 0 3.5" transform="translate(331.230397 342.790698)" style="stroke: #000000; stroke-width: 0.8"/>
      </g>
     </g>
     <g id="text_32">
      <text style="font-size: 10px; font-family: 'DejaVu Sans', 'Liberation Sans', sans-serif; text-anchor: middle" x="331.230397" y="357.710698">100</text>
     </g>
    </g>
    <g id="xtick_12">
     <g id="line2d_36">
      <g>
       <path d="M 0 0 L 0 3.5" transform="translate(389.093987 342.790698)" style="stroke: #000000; stroke-width: 0.8"/>
      </g>
     </g>
     <g id="text_33">
      <text style="font-size: 10px; font-family: 'DejaVu Sans', 'Liberation Sans', sans-serif; text-anchor: middle" x="389.093987" y="357.710698">200</text>
     </g>
    </g>
    <g id="text_34">
     <text style="font-size: 10px; font-family: 'DejaVu Sans', 'Liberation Sans', sans-serif; text-anchor: middle" x="345.406977" y="371.790698">Epochs</text>
    </g>
   </g>
   <g id="matplotlib.axis_8">
    <g id="ytick_13">
     <g id="line2d_37">
      <g>
       <path d="M 0 0 L -3.5 0" transform="translate(266.162791 341.749943)" style="stroke: #000000; stroke-width: 0.8"/>
      </g>
     </g>
     <g id="text_35">
      <g transform="translate(0.000 1.163)"><text style="font-size: 10px; font-family: 'DejaVu Sans', 'Liberation Sans', sans-serif; text-anchor: end" x="259.162791" y="345.709943">0.02</text></g>
     </g>
    </g>
    <g id="ytick_14">
     <g id="line2d_38">
      <g>
       <path d="M 0 0 L -3.5 0" transform="translate(266.162791 320.510061)" style="stroke: #000000; stroke-width: 0.8"/>
      </g>
     </g>
     <g id="text_36">
      <g transform="translate(0.000 1.163)"><text style="font-size: 10px; font-family: 'DejaVu Sans', 'Liberation Sans', sans-serif; text-anchor: end" x="259.162791" y="324.470061">0.03</text></g>
     </g>
    </g>
    <g id="ytick_15">
     <g id="line2d_39">
      <g>
       <path d="M 0 0 L -3.5 0" transform="translate(266.162791 299.270179)" style="stroke: #000000; stroke-width: 0.8"/>
      </g>
     </g>
     <g id="text_37">
      <text style="font-size: 10px; font-family: 'DejaVu Sans', 'Liberation Sans', sans-serif; text-anchor: end" x="259.162791" y="303.230179">0.04</text>
     </g>
    </g>
    <g id="ytick_16">
     <g id="line2d_40">
      <g>
       <path d="M 0 0 L -3.5 0" transform="translate(266.162791 278.030296)" style="stroke: #000000; stroke-width: 0.8"/>
      </g>
     </g>
     <g id="text_38">
      <text style="font-size: 10px; font-family: 'DejaVu Sans', 'Liberation Sans', sans-serif; text-anchor: end" x="259.162791" y="281.990296">0.05</text>
     </g>
    </g>
    <g id="ytick_17">
     <g id="line2d_41">
      <g>
       <path d="M 0 0 L -3.5 0" transform="translate(266.162791 256.790414)" style="stroke: #000000; stroke-width: 0.8"/>
      </g>
     </g>
     <g id="text_39">
      <g transform="translate(0.000 1.163)"><text style="font-size: 10px; font-family: 'DejaVu Sans', 'Liberation Sans', sans-serif; text-anchor: end" x="259.162791" y="260.750414">0.06</text></g>
     </g>
    </g>
    <g id="ytick_18">
     <g id="line2d_42">
      <g>
       <path d="M 0 0 L -3.5 0" transform="translate(266.162791 235.550532)" style="stroke: #000000; stroke-width: 0.8"/>
      </g>
     </g>
     <g id="text_40">
      <g transform="translate(0.000 1.163)"><text style="font-size: 10px; font-family: 'DejaVu Sans', 'Liberation Sans', sans-serif; text-anchor: end" x="259.162791" y="239.510532">0.07</text></g>
     </g>
    </g>
    <g id="ytick_19">
     <g id="line2d_43">
      <g>
       <path d="M 0 0 L -3.5 0" transform="translate(266.162791 214.310649)" style="stroke: #000000; stroke-width: 0.8"/>
      </g>
     </g>
     <g id="text_41">
      <text style="font-size: 10px; font-family: 'DejaVu Sans', 'Liberation Sans', sans-serif; text-anchor: end" x="259.162791" y="218.270649">0.08</text>
     </g>
    </g>
    <g id="text_42">
     <g transform="translate(0.000 1.163)"><text style="font-size: 10px; font-family: 'DejaVu Sans', 'Liberation Sans', sans-serif; text-anchor: middle" x="230.761541" y="269.651163" transform="rotate(-90 230.761541 269.651163)">val/box_loss</text></g>
    </g>
   </g>
   <g id="line2d_44">
    <path d="M 273.366808 238.372093 L 273.945444 274.418605 L 274.524079 287.209302 L 275.102715 295.930233 L 275.681351 302.906977 L 276.259987 308.139535 L 276.838623 311.976744 L 277.417259 314.534884 L 280.310438 320.709444 L 281.46771 321.954323 L 282.624982 322.809305 L 283.782254 323.416852 L 284.939526 323.784722 L 286.675433 324.060472 L 296.512243 325.187967 L 298.248151 325.689925 L 306.92769 328.685368 L 310.978141 329.714831 L 316.185864 330.80035 L 321.393587 331.646753 L 327.179946 332.341204 L 336.43812 333.184948 L 345.696295 333.832449 L 355.533105 334.260258 L 405.874428 335.953646 L 417.447146 336.272579 L 417.447146 336.272579" clip-path="url(#p073fd13738)" style="fill: none; stroke: #1f77b4; stroke-width: 2; stroke-linecap: square"/>
   </g>
   <g id="line2d_45">
    <path d="M 273.366808 232.55814 L 273.945444 269.767442 L 274.524079 278.488372 L 275.102715 284.883721 L 275.681351 288.953488 L 276.259987 291.860465 L 276.838623 294.186047 L 277.995895 296.971963 L 278.574531 298.10862 L 279.153167 298.985737 L 280.310438 300.167826 L 281.46771 301.02664 L 282.624982 301.542642 L 284.36089 301.900991 L 287.254069 302.223842 L 298.248151 303.206084 L 301.141331 303.900938 L 312.135413 306.872192 L 316.7645 307.676756 L 321.972223 308.356569 L 328.337218 308.955839 L 339.909936 309.78174 L 361.8981 311.102955 L 377.521269 311.779839 L 400.666705 312.55131 L 417.447146 313.016662 L 417.447146 313.016662" clip-path="url(#p073fd13738)" style="fill: none; stroke: #ff7f0e; stroke-width: 2; stroke-linecap: square"/>
   </g>
   <g id="line2d_46">
    <path d="M 273.366808 202.906977 L 273.945444 241.860465 L 274.524079 259.883721 L 275.102715 267.44186 L 276.259987 276.744186 L 276.838623 280 L 277.417259 282.325581 L 277.995895 284.069767 L 278.574531 285.348837 L 279.731802 287.052275 L 280.889074 288.485239 L 282.046346 289.58725 L 283.203618 290.280887 L 284.939526 290.935999 L 287.832705 291.683479 L 291.883156 292.770489 L 299.984059 295.013217 L 306.349054 296.594719 L 311.556777 297.664812 L 317.921772 298.739953 L 324.286767 299.580877 L 331.809033 300.338981 L 341.067208 301.026287 L 356.111741 301.876298 L 374.049454 302.662098 L 417.447146 304.409603 L 417.447146 304.409603" clip-path="url(#p073fd13738)" style="fill: none; stroke: #2ca02c; stroke-width: 2; stroke-linecap: square"/>
   </g>
   <g id="patch_19">
    <path d="M 266.162791 342.790698 L 266.162791 196.511628" style="fill: none; stroke: #000000; stroke-width: 0.8; stroke-linejoin: miter; stroke-linecap: square"/>
   </g>
   <g id="patch_20">
    <path d="M 424.651163 342.790698 L 424.651163 196.511628" style="fill: none; stroke: #000000; stroke-width: 0.8; stroke-linejoin: miter; stroke-linecap: square"/>
   </g>
   <g id="patch_21">
    <path d="M 266.162791 342.790698 L 424.651163 342.790698" style="fill: none; stroke: #000000; stroke-width: 0.8; stroke-linejoin: miter; stroke-linecap: square"/>
   </g>
   <g id="patch_22">
    <path d="M 266.162791 196.511628 L 424.651163 196.511628" style="fill: none; stroke: #000000; stroke-width: 0.8; stroke-linejoin: miter; stroke-linecap: square"/>
   </g>
  </g>
  <g id="axes_5">
   <g id="patch_23">
    <path d="M 52.906977 531.860465 L 211.395349 531.860465 L 211.395349 385.581395 L 52.906977 385.581395 z" style="fill: #ffffff"/>
   </g>
   <g id="matplotlib.axis_9">
    <g id="xtick_13">
     <g id="line2d_47">
      <g>
       <path d="M 0 0 L 0 3.5" transform="translate(60.110994 531.860465)" style="stroke: #000000; stroke-width: 0.8"/>
      </g>
     </g>
     <g id="text_43">
      <g transform="translate(0.000 1.163)"><text style="font-size: 10px; font-family: 'DejaVu Sans', 'Liberation Sans', sans-serif; text-anchor: middle" x="60.110994" y="546.780465">0</text></g>
     </g>
    </g>
    <g id="xtick_14">
     <g id="line2d_48">
      <g>
       <path d="M 0 0 L 0 3.5" transform="translate(117.974583 531.860465)" style="stroke: #000000; stroke-width: 0.8"/>
      </g>
     </g>
     <g id="text_44">
      <g transform="translate(0.000 1.163)"><text style="font-size: 10px; font-family: 'DejaVu Sans', 'Liberation Sans', sans-serif; text-anchor: middle" x="117.974583" y="546.780465">100</text></g>
     </g>
    </g>
    <g id="xtick_15">
     <g id="line2d_49">
      <g>
       <path d="M 0 0 L 0 3.5" transform="translate(175.838173 531.860465)" style="stroke: #000000; stroke-width: 0.8"/>
      </g>
     </g>
     <g id="text_45">
      <g transform="translate(0.000 1.163)"><text style="font-size: 10px; font-family: 'DejaVu Sans', 'Liberation Sans', sans-serif; text-anchor: middle" x="175.838173" y="546.780465">200</text></g>
     </g>
    </g>
    <g id="text_46">
     <g transform="translate(0.000 1.163)"><text style="font-size: 10px; font-family: 'DejaVu Sans', 'Liberation Sans', sans-serif; text-anchor: middle" x="132.151163" y="560.860465">Epochs</text></g>
    </g>
   </g>
   <g id="matplotlib.axis_10">
    <g id="ytick_20">
     <g id="line2d_50">
      <g>
       <path d="M 0 0 L -3.5 0" transform="translate(52.906977 526.453387)" style="stroke: #000000; stroke-width: 0.8"/>
      </g>
     </g>
     <g id="text_47">
      <g transform="translate(0.000 1.163)"><text style="font-size: 10px; font-family: 'DejaVu Sans', 'Liberation Sans', sans-serif; text-anchor: end" x="45.906977" y="530.413387">0.03</text></g>
     </g>
    </g>
    <g id="ytick_21">
     <g id="line2d_51">
      <g>
       <path d="M 0 0 L -3.5 0" transform="translate(52.906977 494.458839)" style="stroke: #000000; stroke-width: 0.8"/>
      </g>
     </g>
     <g id="text_48">
      <text style="font-size: 10px; font-family: 'DejaVu Sans', 'Liberation Sans', sans-serif; text-anchor: end" x="45.906977" y="498.418839">0.04</text>
     </g>
    </g>
    <g id="ytick_22">
     <g id="line2d_52">
      <g>
       <path d="M 0 0 L -3.5 0" transform="translate(52.906977 462.464292)" style="stroke: #000000; stroke-width: 0.8"/>
      </g>
     </g>
     <g id="text_49">
      <g transform="translate(0.000 1.163)"><text style="font-size: 10px; font-family: 'DejaVu Sans', 'Liberation Sans', sans-serif; text-anchor: end" x="45.906977" y="466.424292">0.05</text></g>
     </g>
    </g>
    <g id="ytick_23">
     <g id="line2d_53">
      <g>
       <path d="M 0 0 L -3.5 0" transform="translate(52.906977 430.469745)" style="stroke: #000000; stroke-width: 0.8"/>
      </g>
     </g>
     <g id="text_50">
      <text style="font-size: 10px; font-family: 'DejaVu Sans', 'Liberation Sans', sans-serif; text-anchor: end" x="45.906977" y="434.429745">0.06</text>
     </g>
    </g>
    <g id="ytick_24">
     <g id="line2d_54">
      <g>
       <path d="M 0 0 L -3.5 0" transform="translate(52.906977 398.475198)" style="stroke: #000000; stroke-width: 0.8"/>
      </g>
     </g>
     <g id="text_51">
      <g transform="translate(0.000 1.163)"><text style="font-size: 10px; font-family: 'DejaVu Sans', 'Liberation Sans', sans-serif; text-anchor: end" x="45.906977" y="402.435198">0.07</text></g>
     </g>
    </g>
    <g id="text_52">
     <g transform="translate(0.000 1.163)"><text style="font-size: 10px; font-family: 'DejaVu Sans', 'Liberation Sans', sans-serif; text-anchor: middle" x="17.505727" y="458.72093" transform="rotate(-90 17.505727 458.72093)">val/obj_loss</text></g>
    </g>
   </g>
   <g id="line2d_55">
    <path d="M 60.110994 457.55814 L 60.68963 459.302326 L 61.268265 462.209302 L 61.846901 467.44186 L 64.161445 494.186047 L 64.740081 498.837209 L 65.318717 501.554918 L 66.475989 504.697265 L 67.63326 506.96954 L 68.790532 508.431921 L 69.947804 509.286 L 71.683712 510.129711 L 72.840983 510.469852 L 73.998255 510.565603 L 75.155527 510.342328 L 76.312799 509.818663 L 79.205978 508.03002 L 81.520522 506.668258 L 82.677794 506.176162 L 83.835065 505.918809 L 84.992337 505.907719 L 86.149609 506.099186 L 87.885517 506.649443 L 89.621424 507.431178 L 91.935968 508.77692 L 101.194142 514.705885 L 104.087322 516.221159 L 106.980501 517.486391 L 109.295045 518.282016 L 112.188224 519.008925 L 115.66004 519.60529 L 138.22684 522.718561 L 144.013199 523.236635 L 151.535465 523.674403 L 164.844091 524.19153 L 187.989527 524.842628 L 204.191332 525.220735 L 204.191332 525.220735" clip-path="url(#pa7b5da1b99)" style="fill: none; stroke: #1f77b4; stroke-width: 2; stroke-linecap: square"/>
   </g>
   <g id="line2d_56">
    <path d="M 60.110994 391.744186 L 60.68963 406.976744 L 61.268265 415.930233 L 62.425537 425 L 63.004173 427.906977 L 64.161445 432.180254 L 64.740081 433.72093 L 65.897353 435.979749 L 67.054624 437.775155 L 68.211896 438.942962 L 69.369168 439.644149 L 70.52644 440.137624 L 71.683712 440.428567 L 72.840983 440.423535 L 73.998255 440.059541 L 75.155527 439.410256 L 76.891435 438.129602 L 81.520522 434.309814 L 82.677794 433.733265 L 83.835065 433.378496 L 84.992337 433.276284 L 86.149609 433.427937 L 87.306881 433.791283 L 89.042788 434.604432 L 91.357332 435.976857 L 100.615506 441.842606 L 103.508686 443.361108 L 106.401865 444.665784 L 109.873681 445.973809 L 113.345496 447.034941 L 117.395947 448.021243 L 122.025035 448.899591 L 127.232758 449.656029 L 132.440481 450.191748 L 138.805476 450.60384 L 155.007281 451.57147 L 178.731352 453.045751 L 204.191332 454.48604 L 204.191332 454.48604" clip-path="url(#pa7b5da1b99)" style="fill: none; stroke: #ff7f0e; stroke-width: 2; stroke-linecap: square"/>
   </g>
   <g id="line2d_57">
    <path d="M 60.110994 470.348837 L 60.68963 481.395349 L 61.268265 488.372093 L 61.846901 493.023256 L 63.004173 499.418605 L 63.582809 501.744186 L 64.161445 503.599449 L 64.740081 505 L 65.897353 506.927592 L 67.054624 508.481931 L 68.211896 509.593031 L 69.369168 510.276921 L 71.105076 510.87292 L 73.419619 511.382355 L 76.891435 511.892195 L 86.728245 513.125924 L 90.20006 513.781161 L 94.829147 514.90967 L 101.772778 516.59779 L 105.823229 517.351738 L 111.609588 518.158291 L 119.131855 518.972935 L 126.654122 519.565563 L 137.069568 520.145655 L 150.378194 520.649206 L 164.265455 520.957741 L 186.253619 521.40357 L 198.983609 521.945405 L 204.191332 522.214012 L 204.191332 522.214012" clip-path="url(#pa7b5da1b99)" style="fill: none; stroke: #2ca02c; stroke-width: 2; stroke-linecap: square"/>
   </g>
   <g id="patch_24">
    <path d="M 52.906977 531.860465 L 52.906977 385.581395" style="fill: none; stroke: #000000; stroke-width: 0.8; stroke-linejoin: miter; stroke-linecap: square"/>
   </g>
   <g id="patch_25">
    <path d="M 211.395349 531.860465 L 211.395349 385.581395" style="fill: none; stroke: #000000; stroke-width: 0.8; stroke-linejoin: miter; stroke-linecap: square"/>
   </g>
   <g id="patch_26">
    <path d="M 52.906977 531.860465 L 211.395349 531.860465" style="fill: none; stroke: #000000; stroke-width: 0.8; stroke-linejoin: miter; stroke-linecap: square"/>
   </g>
   <g id="patch_27">
    <path d="M 52.906977 385.581395 L 211.395349 385.581395" style="fill: none; stroke: #000000; stroke-width: 0.8; stroke-linejoin: miter; stroke-linecap: square"/>
   </g>
  </g>
  <g id="axes_6">
   <g id="patch_28">
    <path d="M 266.162791 531.860465 L 424.651163 531.860465 L 424.651163 385.581395 L 266.162791 385.581395 z" style="fill: #ffffff"/>
   </g>
   <g id="matplotlib.axis_11">
    <g id="xtick_16">
     <g id="line2d_58">
      <g>
       <path d="M 0 0 L 0 3.5" transform="translate(273.366808 531.860465)" style="stroke: #000000; stroke-width: 0.8"/>
      </g>
     </g>
     <g id="text_53">
      <g transform="translate(0.000 1.163)"><text style="font-size: 10px; font-family: 'DejaVu Sans', 'Liberation Sans', sans-serif; text-anchor: middle" x="273.366808" y="546.780465">0</text></g>
     </g>
    </g>
    <g id="xtick_17">
     <g id="line2d_59">
      <g>
       <path d="M 0 0 L 0 3.5" transform="translate(331.230397 531.860465)" style="stroke: #000000; stroke-width: 0.8"/>
      </g>
     </g>
     <g id="text_54">
      <g transform="translate(0.000 1.163)"><text style="font-size: 10px; font-family: 'DejaVu Sans', 'Liberation Sans', sans-serif; text-anchor: middle" x="331.230397" y="546.780465">100</text></g>
     </g>
    </g>
    <g id="xtick_18">
     <g id="line2d_60">
      <g>
       <path d="M 0 0 L 0 3.5" transform="translate(389.093987 531.860465)" style="stroke: #000000; stroke-width: 0.8"/>
      </g>
     </g>
     <g id="text_55">
      <g transform="translate(0.000 1.163)"><text style="font-size: 10px; font-family: 'DejaVu Sans', 'Liberation Sans', sans-serif; text-anchor: middle" x="389.093987" y="546.780465">200</text></g>
     </g>
    </g>
    <g id="text_56">
     <g transform="translate(0.000 1.163)"><text style="font-size: 10px; font-family: 'DejaVu Sans', 'Liberation Sans', sans-serif; text-anchor: middle" x="345.406977" y="560.860465">Epochs</text></g>
    </g>
   </g>
   <g id="matplotlib.axis_12">
    <g id="ytick_25">
     <g id="line2d_61">
      <g>
       <path d="M 0 0 L -3.5 0" transform="translate(266.162791 499.180325)" style="stroke: #000000; stroke-width: 0.8"/>
      </g>
     </g>
     <g id="text_57">
      <text style="font-size: 10px; font-family: 'DejaVu Sans', 'Liberation Sans', sans-serif; text-anchor: end" x="259.162791" y="503.140325">0.02</text>
     </g>
    </g>
    <g id="ytick_26">
     <g id="line2d_62">
      <g>
       <path d="M 0 0 L -3.5 0" transform="translate(266.162791 462.828668)" style="stroke: #000000; stroke-width: 0.8"/>
      </g>
     </g>
     <g id="text_58">
      <g transform="translate(0.000 1.163)"><text style="font-size: 10px; font-family: 'DejaVu Sans', 'Liberation Sans', sans-serif; text-anchor: end" x="259.162791" y="466.788668">0.04</text></g>
     </g>
    </g>
    <g id="ytick_27">
     <g id="line2d_63">
      <g>
       <path d="M 0 0 L -3.5 0" transform="translate(266.162791 426.47701)" style="stroke: #000000; stroke-width: 0.8"/>
      </g>
     </g>
     <g id="text_59">
      <g transform="translate(0.000 1.163)"><text style="font-size: 10px; font-family: 'DejaVu Sans', 'Liberation Sans', sans-serif; text-anchor: end" x="259.162791" y="430.43701">0.06</text></g>
     </g>
    </g>
    <g id="ytick_28">
     <g id="line2d_64">
      <g>
       <path d="M 0 0 L -3.5 0" transform="translate(266.162791 390.125353)" style="stroke: #000000; stroke-width: 0.8"/>
      </g>
     </g>
     <g id="text_60">
      <text style="font-size: 10px; font-family: 'DejaVu Sans', 'Liberation Sans', sans-serif; text-anchor: end" x="259.162791" y="394.085353">0.08</text>
     </g>
    </g>
    <g id="text_61">
     <g transform="translate(0.000 1.163)"><text style="font-size: 10px; font-family: 'DejaVu Sans', 'Liberation Sans', sans-serif; text-anchor: middle" x="230.761541" y="458.72093" transform="rotate(-90 230.761541 458.72093)">val/cls_loss</text></g>
    </g>
   </g>
   <g id="line2d_65">
    <path d="M 273.366808 447.674419 L 274.524079 473.255814 L 275.681351 490.697674 L 276.838623 502.325581 L 277.417259 506.976744 L 278.574531 510.66435 L 279.153167 511.998556 L 279.731802 513.021938 L 280.310438 513.759142 L 280.889074 514.255679 L 282.046346 514.868725 L 283.782254 515.432093 L 286.675433 516.034288 L 290.147249 516.560788 L 294.1977 517.153159 L 297.090879 517.822682 L 303.455874 519.423923 L 308.084961 520.363841 L 311.556777 520.834566 L 325.444038 522.30586 L 330.073125 522.706386 L 337.595392 523.079936 L 363.634007 524.239937 L 378.678541 524.807258 L 398.930797 525.310704 L 417.447146 525.601057 L 417.447146 525.601057" clip-path="url(#pc107fea71b)" style="fill: none; stroke: #1f77b4; stroke-width: 2; stroke-linecap: square"/>
   </g>
   <g id="line2d_66">
    <path d="M 273.366808 391.744186 L 273.945444 427.906977 L 274.524079 447.674419 L 275.681351 464.534884 L 276.259987 470.348837 L 277.417259 478.837209 L 278.574531 483.45349 L 279.153167 485.250567 L 279.731802 486.673876 L 280.310438 487.73162 L 281.46771 489.190491 L 282.624982 490.100271 L 283.782254 490.46215 L 286.675433 490.680572 L 291.883156 491.129636 L 294.1977 491.48455 L 296.512243 492.055337 L 299.405423 492.979088 L 308.663597 496.339449 L 311.556777 497.055749 L 314.449956 497.562692 L 324.286767 499.062391 L 328.915854 499.719873 L 335.280849 500.362886 L 366.527187 502.973914 L 379.257177 503.85178 L 395.458982 504.725697 L 412.818059 505.442571 L 417.447146 505.599515 L 417.447146 505.599515" clip-path="url(#pc107fea71b)" style="fill: none; stroke: #ff7f0e; stroke-width: 2; stroke-linecap: square"/>
   </g>
   <g id="line2d_67">
    <path d="M 273.366808 447.325581 L 273.945444 460.465116 L 275.102715 480.232558 L 276.259987 495.348837 L 277.417259 504.069767 L 278.574531 506.918708 L 279.153167 507.911063 L 279.731802 508.667673 L 280.889074 509.643627 L 282.046346 510.240892 L 283.782254 510.872643 L 286.096797 511.458266 L 299.984059 514.348705 L 308.084961 515.704729 L 310.978141 515.944453 L 316.185864 516.073714 L 320.236315 516.293258 L 334.123577 517.511037 L 353.218561 518.394133 L 375.785361 519.371811 L 397.194889 520.02594 L 417.447146 520.474023 L 417.447146 520.474023" clip-path="url(#pc107fea71b)" style="fill: none; stroke: #2ca02c; stroke-width: 2; stroke-linecap: square"/>
   </g>
   <g id="patch_29">
    <path d="M 266.162791 531.860465 L 266.162791 385.581395" style="fill: none; stroke: #000000; stroke-width: 0.8; stroke-linejoin: miter; stroke-linecap: square"/>
   </g>
   <g id="patch_30">
    <path d="M 424.651163 531.860465 L 424.651163 385.581395" style="fill: none; stroke: #000000; stroke-width: 0.8; stroke-linejoin: miter; stroke-linecap: square"/>
   </g>
   <g id="patch_31">
    <path d="M 266.162791 531.860465 L 424.651163 531.860465" style="fill: none; stroke: #000000; stroke-width: 0.8; stroke-linejoin: miter; stroke-linecap: square"/>
   </g>
   <g id="patch_32">
    <path d="M 266.162791 385.581395 L 424.651163 385.581395" style="fill: none; stroke: #000000; stroke-width: 0.8; stroke-linejoin: miter; stroke-linecap: square"/>
   </g>
  </g>
 </g>
 <defs>
  <clipPath id="pa51ea59120">
   <rect x="52.906977" y="7.44186" width="158.488372" height="146.27907"/>
  </clipPath>
  <clipPath id="pc70cf0ac64">
   <rect x="266.162791" y="7.44186" width="158.488372" height="146.27907"/>
  </clipPath>
  <clipPath id="p3bf4592980">
   <rect x="52.906977" y="196.511628" width="158.488372" height="146.27907"/>
  </clipPath>
  <clipPath id="p073fd13738">
   <rect x="266.162791" y="196.511628" width="158.488372" height="146.27907"/>
  </clipPath>
  <clipPath id="pa7b5da1b99">
   <rect x="52.906977" y="385.581395" width="158.488372" height="146.27907"/>
  </clipPath>
  <clipPath id="pc107fea71b">
   <rect x="266.162791" y="385.581395" width="158.488372" height="146.27907"/>
  </clipPath>
 </defs>
</svg>

</body></html>
